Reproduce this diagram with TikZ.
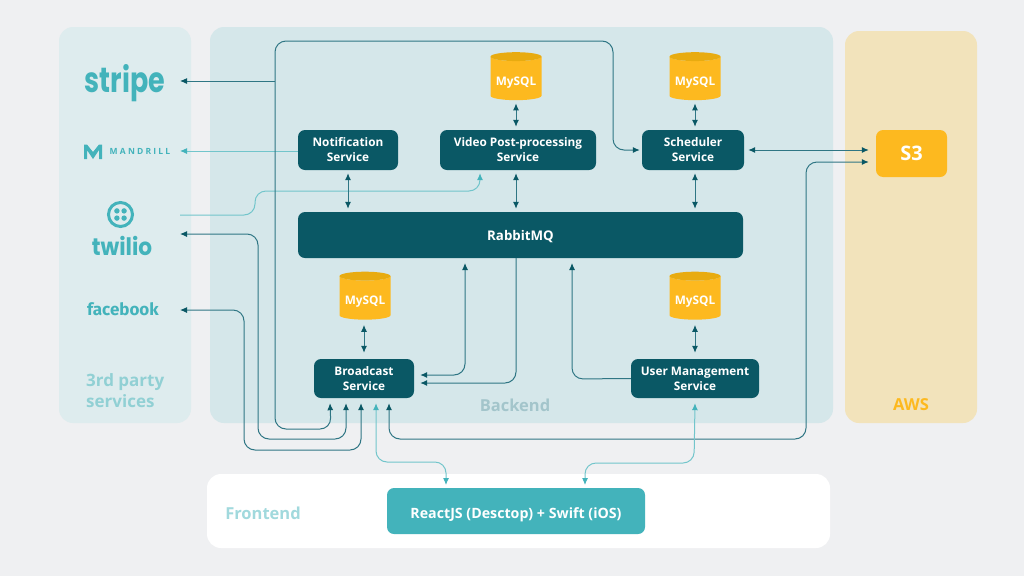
\documentclass[tikz,border=0pt]{standalone}
\usepackage{fontspec}
\setmainfont{Open Sans}
\newfontfamily\logofont{Poppins}
\newfontfamily\fbfont{Fira Sans}
\usetikzlibrary{arrows.meta,shapes.geometric}
\definecolor{bg}{HTML}{EFF0F2}
\definecolor{thirdp}{HTML}{DEECEE}
\definecolor{backp}{HTML}{D5E7EA}
\definecolor{awsp}{HTML}{F2E3BB}
\definecolor{dark}{HTML}{0A5865}
\definecolor{line}{HTML}{2F7684}
\definecolor{teal}{HTML}{43B3BB}
\definecolor{lteal}{HTML}{72C5CB}
\definecolor{yel}{HTML}{FDB91F}
\definecolor{yeld}{HTML}{E8AB10}
\tikzset{
 panel/.style={fill=#1,draw=none,rounded corners=14},
 svc/.style={fill=dark,text=white,rounded corners=7,inner sep=0,align=center,font=\bfseries\fontsize{11.8}{15}\selectfont},
 db/.style={cylinder,shape border rotate=90,draw=none,cylinder uses custom fill,cylinder body fill=yel,cylinder end fill=yeld,minimum width=51,minimum height=48,aspect=0.22,inner sep=0,text=white,font=\bfseries\fontsize{11.8}{14}\selectfont},
 conn/.style={draw=line,line width=1,rounded corners=11,-{Latex[length=7,width=6,color=dark]}},
 both/.style={conn,{Latex[length=7,width=6,color=dark]}-{Latex[length=7,width=6,color=dark]}},
 tconn/.style={conn,draw=lteal,-{Latex[length=7,width=6,color=teal]}},
 tboth/.style={tconn,{Latex[length=7,width=6,color=teal]}-{Latex[length=7,width=6,color=teal]}},
 plabel/.style={font=\bfseries\fontsize{#1}{21}\selectfont,inner sep=0},
 logo/.style={text=teal,inner sep=0}
}
\newcommand{\lowered}[2]{\raisebox{-#1pt}[0pt][0pt]{#2}}
\begin{document}
\begin{tikzpicture}[x=1pt,y=-1pt]
\useasboundingbox (0,0) rectangle (1024,576);
\fill[bg] (0,0) rectangle (1024,576);
% panels
\fill[panel=thirdp] (59,27) rectangle (191,423);
\fill[panel=backp] (210,27) rectangle (833,423);
\fill[panel=awsp] (845,31) rectangle (977,423);
\fill[panel=white] (207,474) rectangle (830,548);
% panel labels
\node[plabel=17,text=teal!50!thirdp,align=left,anchor=west] (lbl3) at (86,391) {3rd party\\services};
\node[plabel=16.5,text=line!30!backp] (lblb) at (515,405) {Backend};
\node[plabel=16.5,text=yel] (lbla) at (911,405) {AWS};
\node[plabel=16.5,text=teal!50!white] (lblf) at (263,513) {Frontend};
% services
\node[svc,minimum width=100,minimum height=40] (notif) at (348,150) {Notification\\Service};
\node[svc,minimum width=156,minimum height=40] (video) at (518,150) {Video Post-processing\\Service};
\node[svc,minimum width=102,minimum height=40] (sched) at (693,150) {Scheduler\\Service};
\node[svc,minimum width=445,minimum height=46,font=\bfseries\fontsize{13.3}{15}\selectfont] (rabbit) at (520.5,235) {\lowered{5.7}{RabbitMQ}};
\node[svc,minimum width=100,minimum height=39] (bcast) at (364,378.5) {Broadcast\\Service};
\node[svc,minimum width=128,minimum height=39] (user) at (695,378.5) {User Management\\Service};
\node[fill=yel,text=white,rounded corners=7,minimum width=71,minimum height=47,inner sep=0,font=\bfseries\fontsize{20}{22}\selectfont] (s3) at (911.5,153.5) {S3};
\node[fill=teal,text=white,rounded corners=7,minimum width=258,minimum height=46,inner sep=0,font=\bfseries\fontsize{14.2}{16}\selectfont] (react) at (516,511) {\lowered{7}{ReactJS (Desctop) + Swift (iOS)}};
% databases
\node[db] (dba) at (516,78.5) {\lowered{6.8}{MySQL}};
\node[db] (dbb) at (695,78.5) {\lowered{6.8}{MySQL}};
\node[db] (dbc) at (365,298) {\lowered{6.8}{MySQL}};
\node[db] (dbd) at (695,298) {\lowered{6.8}{MySQL}};
% logos
\node[logo,font=\logofont\bfseries\fontsize{35}{35}\selectfont] (stripe) at (125,83) {\scalebox{0.77}[1]{stripe}};
\node[logo,font=\bfseries\fontsize{8.5}{9}\selectfont\addfontfeatures{LetterSpace=26}] (mandrill) at (140,151) {MANDRILL};
\fill[teal] (84,159) -- (84,144.5) -- (87,144.5) -- (93,152) -- (99,144.5) -- (102,144.5) -- (102,159) -- (99,159) -- (99,150) -- (93,159) -- (87,150) -- (87,159) -- cycle;
\node[logo,draw=teal,line width=3,circle,minimum size=24] (twring) at (120.5,214.5) {};
\foreach \dx/\dy in {-3.6/-3.6,3.6/-3.6,-3.6/3.6,3.6/3.6}{\fill[teal] (120.5+\dx,214.5+\dy) circle (2.7);}
\node[logo,font=\logofont\bfseries\fontsize{24}{24}\selectfont] (twilio) at (122,246) {\scalebox{0.9}[1]{twilio}};
\node[logo,font=\fbfont\bfseries\fontsize{17}{20}\selectfont] (facebook) at (123,309) {facebook};
% free ends beside the logos
\coordinate (eStripe) at (180,81);
\coordinate (eMand) at (180,151);
\coordinate (eTwOut) at (180,215);
\coordinate (eTwIn) at (180,234);
\coordinate (eFb) at (180,310);
% third-party connectors
\draw[conn] (275,81) -- (eStripe);
\draw[tconn] (notif.west |- eMand) -- (eMand);
\draw[tconn] (eTwOut) -- (255,215) -- (255,191) -- (480,191) -- ([xshift=-38,yshift=-3]video.south);
\draw[both] (eTwIn) -- (258,234) -- (258,439) -- (346,439) -- ([xshift=-18,yshift=-5]bcast.south);
\draw[both] (eFb) -- (244,310) -- (244,450) -- (361,450) -- ([xshift=-3,yshift=-5]bcast.south);
\draw[both] ([xshift=-34,yshift=-5]bcast.south) -- (331,429) -- (275,429) -- (275,41) -- (613,41) -- (613,150) -- ([xshift=-2]sched.west);
% vertical service links
\draw[both,shorten <=3,shorten >=3] (notif.south) -- (notif.south |- rabbit.north);
\draw[both,shorten <=3,shorten >=3] ([xshift=-2]video.south) -- ([xshift=-2]video.south |- rabbit.north);
\draw[both,shorten <=3,shorten >=3] ([xshift=2]sched.south) -- ([xshift=2]sched.south |- rabbit.north);
\draw[both] ([yshift=-3]dba.south) -- ([xshift=-2,yshift=3]video.north);
\draw[both] ([yshift=-3]dbb.south) -- ([xshift=2,yshift=3]sched.north);
\draw[both] ([xshift=-1,yshift=-5]dbc.south) -- ([yshift=6]bcast.north);
\draw[both] ([yshift=-5]dbd.south) -- ([yshift=6]user.north);
% broadcast / rabbit
\draw[both] ([xshift=6]bcast.east |- 0,375) -- (465,375) -- (465,263);
\draw[conn] (516,258) -- (516,383) -- ([xshift=6]bcast.east |- 0,383);
\draw[conn] (user.west) -- (572,379) -- (572,263);
% S3
\draw[both] ([xshift=4]sched.east) -- ([xshift=-7]s3.west |- sched.east);
\draw[both] ([xshift=25,yshift=-5]bcast.south) -- (389,439) -- (806,439) -- (806,162) -- ([xshift=-7]s3.west |- 0,162);
% frontend
\draw[tboth] ([xshift=12,yshift=-5]bcast.south) -- (376,462) -- (446,462) -- (446,485);
\draw[tboth] ([yshift=-5]user.south) -- (694,463) -- (585,463) -- (585,485);
\end{tikzpicture}
\end{document}
